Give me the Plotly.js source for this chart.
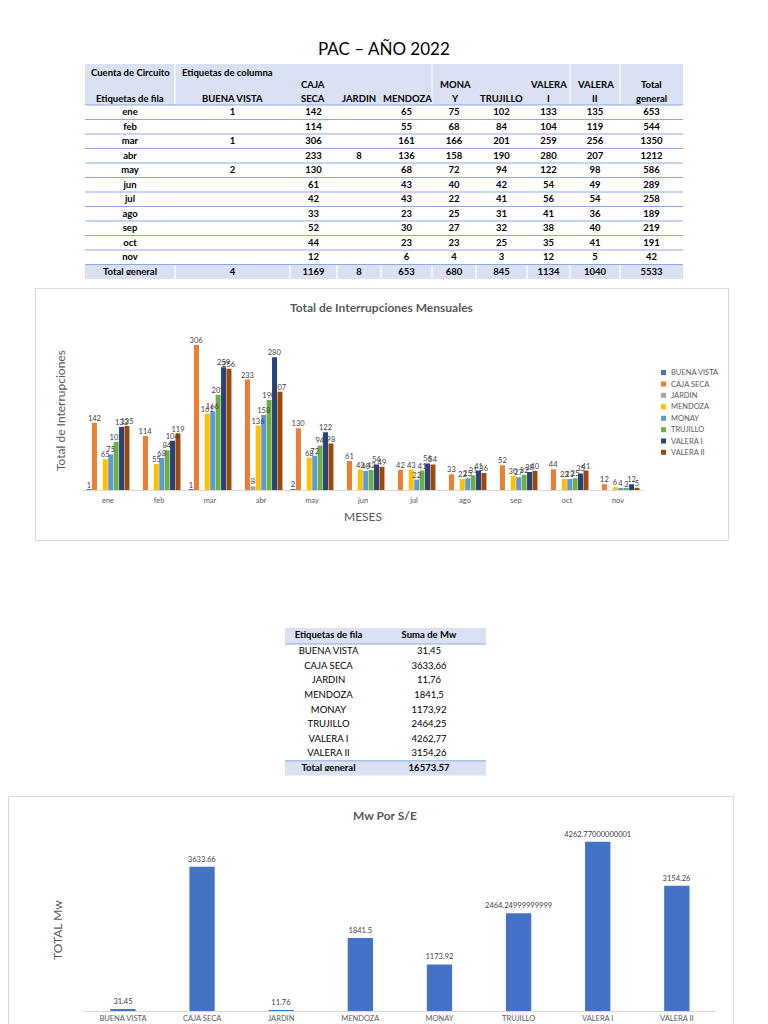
<!DOCTYPE html>
<html><head><meta charset="utf-8">
<script src="https://cdn.plot.ly/plotly-3.0.1.min.js"></script>
<style>html,body{margin:0;padding:0;background:#fff;}#page{width:768px;height:1024px;}</style>
</head><body><div id="page"></div>
<script>
// ---------- data ----------
const months = ['ene','feb','mar','abr','may','jun','jul','ago','sep','oct','nov'];
const seriesNames = ['BUENA VISTA','CAJA SECA','JARDIN','MENDOZA','MONAY','TRUJILLO','VALERA I','VALERA II'];
const buenaVista = [1,null,1,null,2,null,null,null,null,null,null];
const cajaSeca   = [142,114,306,233,130,61,42,33,52,44,12];
const jardin     = [null,null,null,8,null,null,null,null,null,null,null];
const mendoza    = [65,55,161,136,68,43,43,23,30,23,6];
const monay      = [75,68,166,158,72,40,22,25,27,23,4];
const trujillo   = [102,84,201,190,94,42,41,31,32,25,3];
const valeraI    = [133,104,259,280,122,54,56,41,38,35,12];
const valeraII   = [135,119,256,207,98,49,54,36,40,41,5];
const rowTotals  = [653,544,1350,1212,586,289,258,189,219,191,42];
const colTotals  = [4,1169,8,653,680,845,1134,1040];
const grandTotal = 5533;

const stations = ['BUENA VISTA','CAJA SECA','JARDIN','MENDOZA','MONAY','TRUJILLO','VALERA I','VALERA II'];
const mw       = [31.45,3633.66,11.76,1841.5,1173.92,2464.25,4262.77,3154.26];
const mwLabels = ['31.45','3633.66','11.76','1841.5','1173.92','2464.24999999999','4262.77000000001','3154.26'];
const mwTotal  = 16573.57;

const colors = ['#4472C4','#ED7D31','#A5A5A5','#FFC000','#5B9BD5','#70AD47','#264478','#9E480E'];

// ---------- helpers ----------
const W = 768, H = 1024;
const px = x => x / W, py = y => 1 - y / H;
const FONT = 'Lato, "Open Sans", sans-serif';
const GRAY = '#595959';
const BLUE_FILL = '#d9e1f2', BLUE_LINE = '#8ea9db';
const TXT_SHIFT = 5;   // table text sits cellPad below row top; lift the text layer

const allSeries = [buenaVista,cajaSeca,jardin,mendoza,monay,trujillo,valeraI,valeraII];
const fmt = v => (v === null || v === undefined) ? '' : String(v);
const shapes = [];
function RECT(x0,y0,x1,y1,fill,layer){ shapes.push({type:'rect',xref:'paper',yref:'paper',layer:layer||'below',
  x0:px(x0),x1:px(x1),y0:py(y1),y1:py(y0),fillcolor:fill,line:{width:0}}); }
function LINE(x0,y0,x1,y1,color,w,layer){ shapes.push({type:'line',xref:'paper',yref:'paper',layer:layer||'above',
  x0:px(x0),x1:px(x1),y0:py(y0),y1:py(y1),line:{color:color,width:w||1}}); }

// ---------- table 1 ----------
const t1edges = [85,175,290,337,381,432,476,527,570,620,683];
const t1widths = t1edges.slice(1).map((e,i) => e - t1edges[i]);
const t1cols = [months.concat(['Total general'])];
allSeries.forEach((s,i) => t1cols.push(s.map(fmt).concat([String(colTotals[i])])));
t1cols.push(rowTotals.map(String).concat([String(grandTotal)]));
const T1_TOP = 64, T1_HEAD = 41, T1_ROW = 14.5, T1_BOTTOM = T1_TOP + T1_HEAD + T1_ROW*12;

const table1 = {
  type:'table',
  domain:{x:[px(85),px(683)], y:[py(T1_BOTTOM - TXT_SHIFT + 1),py(T1_TOP - TXT_SHIFT)]},
  columnwidth:t1widths,
  header:{values:Array(10).fill(''), height:T1_HEAD, fill:{color:'rgba(0,0,0,0)'}, line:{color:'rgba(0,0,0,0)',width:0}},
  cells:{values:t1cols, height:T1_ROW, align:'center',
    fill:{color:'rgba(0,0,0,0)'}, line:{color:'rgba(0,0,0,0)',width:0},
    font:{family:FONT,size:9.5,color:'#000',weight:'bold'}}
};
// fills / separators for table 1
RECT(85,T1_TOP,683,T1_TOP+T1_HEAD,BLUE_FILL);
RECT(85,T1_BOTTOM-T1_ROW,683,T1_BOTTOM,BLUE_FILL);
[175,432,570,620].forEach(x => LINE(x,T1_TOP,x,T1_TOP+T1_HEAD,'#ffffff',1.2,'below'));
t1edges.slice(1,-1).forEach(x => LINE(x,T1_BOTTOM-T1_ROW,x,T1_BOTTOM,'#ffffff',1.2,'below'));
for(let i=0;i<=11;i++) LINE(85,T1_TOP+T1_HEAD+T1_ROW*i,683,T1_TOP+T1_HEAD+T1_ROW*i,BLUE_LINE,1);

// ---------- table 2 ----------
const T2_TOP = 628, T2_HEAD = 16, T2_ROW = 14.6, T2_BOTTOM = T2_TOP + T2_HEAD + T2_ROW*9;
const t2weights = stations.map(() => 'normal').concat(['bold']);
const table2 = {
  type:'table',
  domain:{x:[px(285),px(486)], y:[py(T2_BOTTOM - TXT_SHIFT + 1),py(T2_TOP - TXT_SHIFT)]},
  columnwidth:[87,114],
  header:{values:['Etiquetas de fila','Suma de Mw'], height:T2_HEAD, align:'center',
    fill:{color:'rgba(0,0,0,0)'}, line:{color:'rgba(0,0,0,0)',width:0},
    font:{family:FONT,size:9.5,color:'#000',weight:'bold'}},
  cells:{values:[stations.concat(['Total general']),
                 mw.map(v => String(v).replace('.',',')).concat([String(mwTotal).replace('.',',')])],
    height:T2_ROW, align:'center', fill:{color:'rgba(0,0,0,0)'}, line:{color:'rgba(0,0,0,0)',width:0},
    font:{family:FONT,size:9.5,color:'#000',weight:[t2weights]}}
};
RECT(285,T2_TOP,486,T2_TOP+T2_HEAD,BLUE_FILL);
RECT(285,T2_BOTTOM-T2_ROW,486,T2_BOTTOM,BLUE_FILL);
LINE(285,T2_TOP+T2_HEAD,486,T2_TOP+T2_HEAD,BLUE_LINE,1);
LINE(285,T2_BOTTOM-T2_ROW,486,T2_BOTTOM-T2_ROW,BLUE_LINE,1);

// ---------- chart 1 ----------
const barTraces = allSeries.map((s,i) => ({
  type:'bar', name:seriesNames[i], x:months, y:s, xaxis:'x', yaxis:'y',
  marker:{color:colors[i]}, showlegend:false, hoverinfo:'x+y+name'
}));
// value labels drawn on an overlaid copy so they sit above every bar
const labelTraces = allSeries.map((s,i) => ({
  type:'bar', name:seriesNames[i], x:months, y:s, xaxis:'x3', yaxis:'y3',
  marker:{color:'rgba(0,0,0,0)'}, texttemplate:'%{y}', textposition:'outside', textangle:0,
  constraintext:'none', cliponaxis:false, showlegend:false, hoverinfo:'skip',
  textfont:{family:FONT,size:7.5,color:'#404040'}
}));

// ---------- chart 2 ----------
const mwTrace = {
  type:'bar', x:stations, y:mw, xaxis:'x2', yaxis:'y2', width:0.32,
  marker:{color:'#4472C4'}, text:mwLabels, texttemplate:'%{text}', textposition:'outside', textangle:0,
  constraintext:'none', cliponaxis:false, showlegend:false,
  textfont:{family:FONT,size:7.5,color:'#404040'}
};

// ---------- annotations ----------
const ann = [];
function A(text,x,y,o){ ann.push(Object.assign({text:text,x:px(x),y:py(y),xref:'paper',yref:'paper',showarrow:false,
  xanchor:'center',yanchor:'middle',font:{family:FONT,size:9.5,color:'#000',weight:'bold'}},o||{})); }
A('PAC – AÑO 2022',384,48,{font:{family:FONT,size:17,color:'#000'}});
// table 1 header
A('Cuenta de Circuito',130,72); A('Etiquetas de fila',130,98);
A('Etiquetas de columna',180,72,{xanchor:'left'});
A('BUENA VISTA',232,98);
A('CAJA',313,84); A('SECA',313,98);
A('JARDIN',359,98); A('MENDOZA',407,98);
A('MONA',455,84); A('Y',455,98);
A('TRUJILLO',501,98);
A('VALERA',548,84); A('I',548,98);
A('VALERA',595,84); A('II',595,98);
A('Total',651,84); A('general',651,98);
// chart 1 titles
A('Total de Interrupciones Mensuales',381,307,{font:{family:FONT,size:12,color:GRAY,weight:'bold'}});
A('Total de Interrupciones',60,411,{textangle:-90,font:{family:FONT,size:12,color:GRAY}});
A('MESES',363,516,{font:{family:FONT,size:12,color:GRAY}});
// legend
const legY = [372.5,384,395.3,406.7,418.3,429.7,441,452.3];
seriesNames.forEach((n,i) => {
  A(n,669,legY[i],{xanchor:'left',font:{family:FONT,size:7.5,color:GRAY}});
  RECT(661,legY[i]-2.5,666,legY[i]+2.5,colors[i],'above');
});
// chart 2 titles
A('Mw Por S/E',385,815,{font:{family:FONT,size:12,color:GRAY,weight:'bold'}});
A('TOTAL Mw',57,930,{textangle:-90,font:{family:FONT,size:12,color:GRAY}});

// chart boxes
shapes.push({type:'rect',xref:'paper',yref:'paper',x0:px(35.5),x1:px(728.5),y0:py(540.5),y1:py(288.5),line:{color:'#d9d9d9',width:1}});
shapes.push({type:'rect',xref:'paper',yref:'paper',x0:px(8.5),x1:px(733.5),y0:py(1040),y1:py(796.5),line:{color:'#d9d9d9',width:1}});

const X1DOM = [px(82.5),px(643.5)], Y1DOM = [py(490),py(330)], Y1RANGE = [0,337.5];
const layout = {
  width:W, height:H, margin:{l:0,r:0,t:0,b:0}, paper_bgcolor:'#fff', plot_bgcolor:'rgba(0,0,0,0)',
  showlegend:false, barmode:'group', bargap:0.15, bargroupgap:0.08,
  font:{family:FONT},
  xaxis:{domain:X1DOM, anchor:'y', type:'category', showline:true, linecolor:'#d9d9d9', linewidth:1,
    ticks:'', showgrid:false, zeroline:false, tickfont:{family:FONT,size:7.5,color:GRAY}, ticklabelstandoff:3, fixedrange:true},
  yaxis:{domain:Y1DOM, anchor:'x', range:Y1RANGE, visible:false, fixedrange:true},
  xaxis3:{domain:X1DOM, anchor:'y3', overlaying:'x', type:'category', visible:false, fixedrange:true},
  yaxis3:{domain:Y1DOM, anchor:'x3', overlaying:'y', range:Y1RANGE, visible:false, fixedrange:true},
  xaxis2:{domain:[px(83.4),px(716.4)], anchor:'y2', type:'category', showline:true, linecolor:'#d9d9d9', linewidth:1,
    ticks:'', showgrid:false, zeroline:false, tickfont:{family:FONT,size:7.5,color:GRAY}, ticklabelstandoff:0, fixedrange:true},
  yaxis2:{domain:[py(1011),py(830)], anchor:'x2', range:[0,181/0.0397], visible:false, fixedrange:true},
  annotations:ann, shapes:shapes
};

Plotly.newPlot('page', [table1, table2].concat(barTraces, labelTraces, [mwTrace]), layout, {displayModeBar:false});
</script></body></html>
